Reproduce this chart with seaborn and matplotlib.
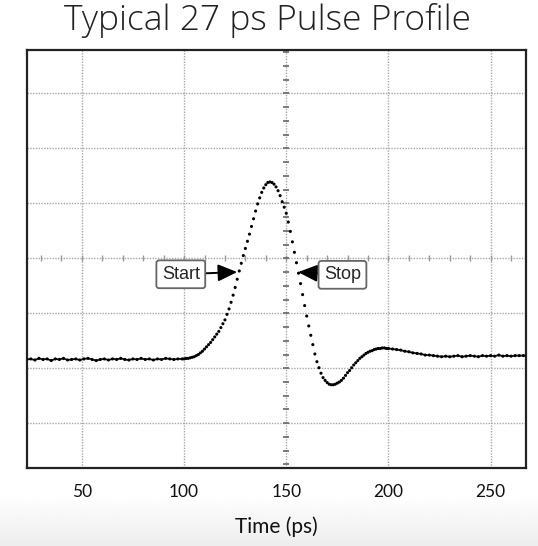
import numpy as np
import pandas as pd
import seaborn as sns
import matplotlib.pyplot as plt

# pulse trace (time in ps, signal in screen divisions)
time_pre = list(range(23, 100, 2))
signal_pre = [-1.84, -1.83, -1.85, -1.82, -1.84, -1.83, -1.86, -1.83, -1.84, -1.82,
              -1.85, -1.84, -1.83, -1.85, -1.83, -1.82, -1.84, -1.86, -1.84, -1.83,
              -1.85, -1.83, -1.84, -1.82, -1.84, -1.85, -1.83, -1.84, -1.82, -1.84,
              -1.83, -1.85, -1.83, -1.84, -1.82, -1.83, -1.84, -1.83, -1.83]

time_pulse = list(range(100, 201))
signal_pulse = [-1.83, -1.82, -1.82, -1.81, -1.80, -1.79, -1.77, -1.75, -1.72, -1.69,
                -1.65, -1.61, -1.57, -1.53, -1.48, -1.43, -1.38, -1.33, -1.26, -1.19,
                -1.12, -1.02, -0.92, -0.80, -0.67, -0.53, -0.38, -0.23, -0.09, 0.05,
                0.18, 0.31, 0.44, 0.58, 0.72, 0.86, 0.99, 1.10, 1.20, 1.28,
                1.34, 1.38, 1.39, 1.38, 1.35, 1.30, 1.23, 1.14, 1.03, 0.93,
                0.82, 0.66, 0.49, 0.30, 0.11, -0.08, -0.27, -0.46, -0.66, -0.86,
                -1.05, -1.23, -1.40, -1.57, -1.74, -1.88, -1.99, -2.09, -2.17, -2.22,
                -2.26, -2.29, -2.30, -2.30, -2.29, -2.27, -2.25, -2.22, -2.18, -2.13,
                -2.08, -2.04, -1.99, -1.94, -1.90, -1.86, -1.82, -1.79, -1.76, -1.73,
                -1.71, -1.69, -1.68, -1.66, -1.65, -1.64, -1.64, -1.63, -1.63, -1.64,
                -1.64]

time_post = list(range(202, 269, 2))
signal_post = [-1.65, -1.66, -1.67, -1.69, -1.70, -1.72, -1.73, -1.74, -1.76, -1.76,
               -1.77, -1.78, -1.79, -1.78, -1.79, -1.78, -1.77, -1.79, -1.78, -1.77,
               -1.78, -1.79, -1.77, -1.78, -1.77, -1.78, -1.76, -1.78, -1.77, -1.78,
               -1.77, -1.77, -1.77, -1.77]

x_ticks = [50, 100, 150, 200, 250]
y_grid = [-3, -2, -1, 0, 1, 2, 3]

df = pd.DataFrame({
    "Time (ps)": time_pre + time_pulse + time_post,
    "Signal": signal_pre + signal_pulse + signal_post,
})
flat = pd.DataFrame({
    "Time (ps)": time_pre + [100, 101, 102, 103],
    "Signal": signal_pre + signal_pulse[:4],
})
tail = pd.DataFrame({
    "Time (ps)": time_pulse[92:] + time_post,
    "Signal": signal_pulse[92:] + signal_post,
})

sns.set_theme(style="white")
plt.rcParams['font.family'] = ['Lato', 'DejaVu Sans']

fig = plt.figure(figsize=(5.38, 5.46), dpi=100)

# light grey fade at the bottom of the image
bg = fig.add_axes([0, 0, 1, 0.095], zorder=-5)
grad = np.linspace(0.93, 1.0, 50).reshape(-1, 1)
bg.imshow(grad, cmap="gray", vmin=0, vmax=1, aspect="auto", origin="lower")
bg.axis("off")

ax = fig.add_axes([0.0496, 0.1423, 0.9281, 0.7661])
ax.set_facecolor("white")

# flat parts look like a solid noisy trace, the edges like sparse dots
sns.lineplot(data=flat, x="Time (ps)", y="Signal", color="#111111", lw=1.3,
             ax=ax, zorder=3)
sns.lineplot(data=tail, x="Time (ps)", y="Signal", color="#111111", lw=1.3,
             ax=ax, zorder=3)
sns.scatterplot(data=df, x="Time (ps)", y="Signal", s=5, color="black",
                edgecolor="none", ax=ax, zorder=3)

ax.set_xlim(23.0, 267.3)
ax.set_ylim(-3.82, 3.79)

# dotted scope graticule
for gx in x_ticks:
    ax.axvline(gx, color="#a8a8a8", lw=1, ls=(0, (1, 1)), zorder=1)
for gy in y_grid:
    ax.axhline(gy, color="#a8a8a8", lw=1, ls=(0, (1, 1)), zorder=1)

# minor marks along the centre lines
mx = np.arange(30, 267, 10)
ax.plot(mx, np.zeros_like(mx), ls="none", marker="|", ms=5, mew=1,
        color="#999999", zorder=2)
my = np.arange(-3.75, 3.8, 0.25)
ax.plot(np.full_like(my, 150), my, ls="none", marker="_", ms=5, mew=1.2,
        color="#666666", zorder=2)

ax.set_xticks(x_ticks)
ax.set_yticks([])
ax.tick_params(axis="x", length=0, pad=11, labelsize=12.5, colors="#111111")
ax.set_xlabel("Time (ps)", fontsize=15, labelpad=12, color="#111111")
ax.set_ylabel("")
for sp in ax.spines.values():
    sp.set_color("#222222")
    sp.set_linewidth(1.6)

box = dict(boxstyle="round,pad=0.3,rounding_size=0.15", fc="white",
           ec="#666666", lw=1.3)
arrow = dict(arrowstyle="-|>,head_length=0.9,head_width=0.4", color="black",
             lw=1.4, shrinkA=0, shrinkB=0)
ax.annotate("Start", xy=(126.0, -0.25), xytext=(98.4, -0.29), ha="center",
            va="center", fontsize=13, family="Liberation Sans", bbox=box,
            arrowprops=arrow, zorder=4)
ax.annotate("Stop", xy=(155.8, -0.25), xytext=(177.5, -0.30), ha="center",
            va="center", fontsize=13, family="Liberation Sans", bbox=box,
            arrowprops=arrow, zorder=4)

fig.text(0.497, 1 - 21 / 546, "Typical 27 ps Pulse Profile", ha="center",
         va="center", fontsize=25.5, fontweight="light",
         family=["Open Sans", "DejaVu Sans"], color="#222222")

fig.savefig("out.png", dpi=100)
